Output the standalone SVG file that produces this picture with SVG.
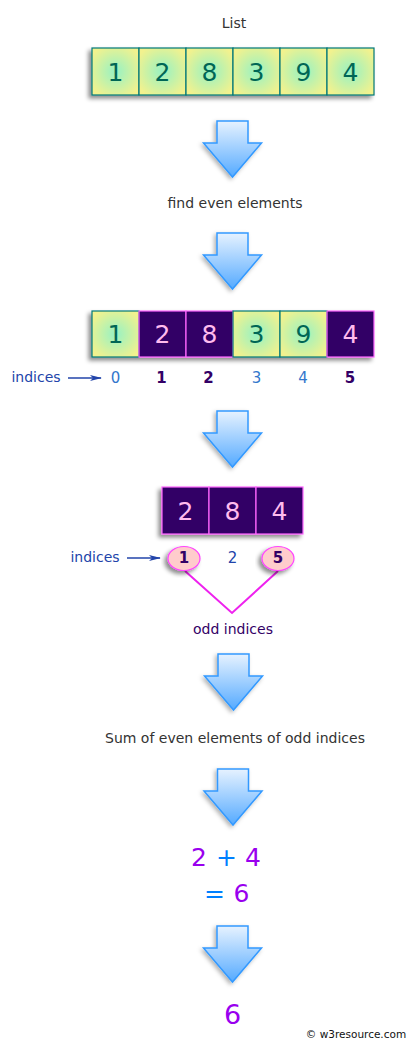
<svg xmlns="http://www.w3.org/2000/svg" width="413" height="1050" viewBox="0 0 413 1050">
<defs>
<radialGradient id="gLight" cx="50%" cy="50%" r="60%">
<stop offset="0" stop-color="#96f2c4"/>
<stop offset="1" stop-color="#f2f28e"/>
</radialGradient>
<linearGradient id="gArrow" x1="0" y1="0" x2="0" y2="1">
<stop offset="0" stop-color="#e6f2ff"/>
<stop offset="1" stop-color="#55aaff"/>
</linearGradient>
<filter id="sh" x="-20%" y="-20%" width="140%" height="150%">
<feDropShadow dx="-3" dy="3" stdDeviation="2" flood-color="#000" flood-opacity="0.45"/>
</filter>
<filter id="shA" x="-30%" y="-20%" width="160%" height="150%">
<feDropShadow dx="-2" dy="2" stdDeviation="2" flood-color="#000" flood-opacity="0.3"/>
</filter>
<path id="arrow" d="M-15.5,0 H15.5 V22 H29 L0,56 L-29,22 H-15.5 Z"/>
<marker id="mk" markerWidth="12" markerHeight="8" refX="11" refY="4" orient="auto" markerUnits="userSpaceOnUse">
<path d="M0,1 L12,4 L0,7 L3,4 Z" fill="#2244aa"/>
</marker>
</defs>
<style>
text{font-family:"DejaVu Sans","Liberation Sans",sans-serif;text-anchor:middle;dominant-baseline:central}
.lbl{font-size:14px;fill:#333}
.cl{fill:url(#gLight);stroke:#007777;stroke-width:1.2}
.cp{fill:#330066;stroke:#ff66ff;stroke-width:1.2}
.tl{font-size:25px;fill:#006655}
.tp{font-size:25px;fill:#ffbbee}
.arr{fill:url(#gArrow);stroke:#3399ff;stroke-width:1.5;filter:url(#shA)}
.ib{font-size:15px;fill:#3377cc}
.id{font-size:15px;fill:#330066;font-weight:bold}
.ind{font-size:14px;fill:#2244aa}
.ptr{stroke:#2244aa;stroke-width:1.5;fill:none;marker-end:url(#mk)}
.pill{fill:#ffcccc;stroke:#ff44ff;stroke-width:1.2}
.pu{font-size:25px;fill:#9900ee}
.bl{font-size:25px;fill:#0080ff}
</style>

<g id="title-list"><text class="lbl" x="234" y="23">List</text></g>

<g id="list1" filter="url(#sh)">
<rect class="cl" x="92" y="48" width="47" height="47"/>
<rect class="cl" x="139" y="48" width="47" height="47"/>
<rect class="cl" x="186" y="48" width="47" height="47"/>
<rect class="cl" x="233" y="48" width="47" height="47"/>
<rect class="cl" x="280" y="48" width="47" height="47"/>
<rect class="cl" x="327" y="48" width="47" height="47"/>
</g>
<g id="list1-text">
<text class="tl" x="115.5" y="72">1</text>
<text class="tl" x="162.5" y="72">2</text>
<text class="tl" x="209.5" y="72">8</text>
<text class="tl" x="256.5" y="72">3</text>
<text class="tl" x="303.5" y="72">9</text>
<text class="tl" x="350.5" y="72">4</text>
</g>

<g id="connectors">
<use href="#arrow" class="arr" x="232.5" y="121"/>
<use href="#arrow" class="arr" x="232.5" y="233"/>
<use href="#arrow" class="arr" x="232.5" y="411"/>
<use href="#arrow" class="arr" x="233.5" y="654"/>
<use href="#arrow" class="arr" x="233" y="769"/>
<use href="#arrow" class="arr" x="232.5" y="926"/>
<line class="ptr" x1="68" y1="378" x2="101" y2="378"/>
<line class="ptr" x1="127" y1="558" x2="160" y2="558"/>
<polyline points="185,571 232,613 278,571" fill="none" stroke="#ee22ee" stroke-width="2"/>
</g>

<g id="step-find"><text class="lbl" x="235" y="203">find even elements</text></g>

<g id="list2" filter="url(#sh)">
<rect class="cl" x="92" y="311" width="47" height="46"/>
<rect class="cp" x="139" y="311" width="47" height="46"/>
<rect class="cp" x="186" y="311" width="47" height="46"/>
<rect class="cl" x="233" y="311" width="47" height="46"/>
<rect class="cl" x="280" y="311" width="47" height="46"/>
<rect class="cp" x="327" y="311" width="47" height="46"/>
</g>
<g id="list2-text">
<text class="tl" x="115.5" y="334">1</text>
<text class="tp" x="162.5" y="334">2</text>
<text class="tp" x="209.5" y="334">8</text>
<text class="tl" x="256.5" y="334">3</text>
<text class="tl" x="303.5" y="334">9</text>
<text class="tp" x="350.5" y="334">4</text>
</g>

<g id="indices1">
<text class="ind" x="36" y="377">indices</text>
<text class="ib" x="115.5" y="378">0</text>
<text class="id" x="161.5" y="378">1</text>
<text class="id" x="208.5" y="378">2</text>
<text class="ib" x="256.5" y="378">3</text>
<text class="ib" x="303" y="378">4</text>
<text class="id" x="350" y="378">5</text>
</g>

<g id="list3" filter="url(#sh)">
<rect class="cp" x="162" y="487" width="47" height="47"/>
<rect class="cp" x="209" y="487" width="47" height="47"/>
<rect class="cp" x="256" y="487" width="47" height="47"/>
</g>
<g id="list3-text">
<text class="tp" x="185.5" y="511">2</text>
<text class="tp" x="232.5" y="511">8</text>
<text class="tp" x="279.5" y="511">4</text>
</g>

<g id="indices2">
<text class="ind" x="95" y="557">indices</text>
<ellipse class="pill" cx="184" cy="558.5" rx="16" ry="12" filter="url(#sh)"/>
<text class="id" x="184" y="558">1</text>
<text class="ind" x="232.5" y="558" style="font-size:15px">2</text>
<ellipse class="pill" cx="278" cy="558.5" rx="16" ry="12" filter="url(#sh)"/>
<text class="id" x="278" y="558">5</text>
</g>

<g id="odd-label"><text x="233" y="629" style="font-size:14px;fill:#330066">odd indices</text></g>

<g id="step-sum"><text class="lbl" x="235" y="738">Sum of even elements of odd indices</text></g>

<g id="calc">
<text class="pu" x="199" y="857">2</text>
<text class="bl" x="226.5" y="857">+</text>
<text class="pu" x="253" y="857">4</text>
<text class="bl" x="214.5" y="893">=</text>
<text class="pu" x="241.5" y="893">6</text>
</g>

<g id="result"><text x="232.5" y="1014" style="font-size:27px;fill:#9900ee">6</text></g>

<g id="credit"><text x="356" y="1034" style="font-size:10.5px;fill:#111">© w3resource.com</text></g>
</svg>
